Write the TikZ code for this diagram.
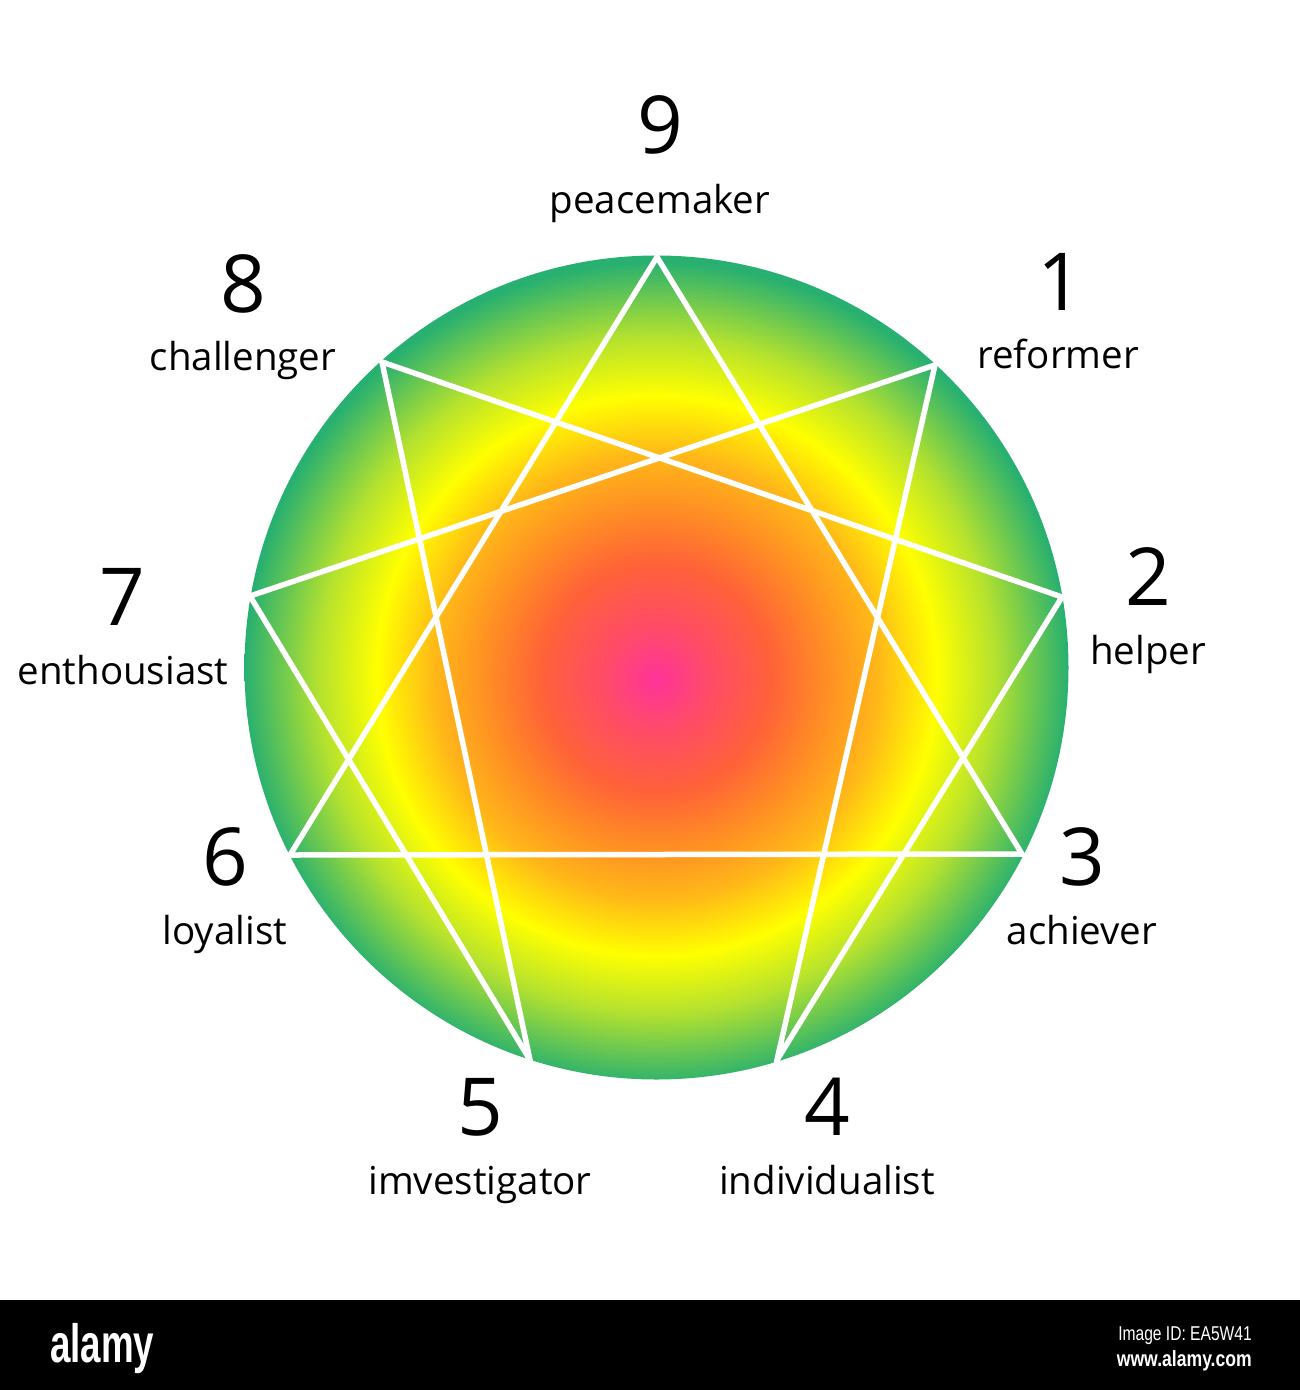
\documentclass[tikz,border=0pt]{standalone}
\usepackage{fontspec}
\setmainfont{Open Sans}
\newfontfamily\barfont{Liberation Sans}
\definecolor{cpink}{HTML}{FF3399}
\definecolor{cpinkred}{HTML}{FF4A6A}
\definecolor{cred}{HTML}{FF6238}
\definecolor{corange}{HTML}{FF8A25}
\definecolor{camber}{HTML}{FFB818}
\definecolor{cyellow}{HTML}{FFFF00}
\definecolor{clime}{HTML}{B5E22E}
\definecolor{cgreen}{HTML}{28B070}
\pgfdeclareradialshading{ennea}{\pgfpoint{0bp}{-0.75bp}}{%
  color(0bp)=(cpink); color(3bp)=(cpinkred); color(7bp)=(cred);
  color(10bp)=(corange); color(13.5bp)=(camber); color(17bp)=(cyellow);
  color(20.5bp)=(clime); color(25bp)=(cgreen); color(50bp)=(cgreen)}
\begin{document}
\begin{tikzpicture}[x=1pt,y=-1pt,
  wline/.style={draw=white,line width=5.5pt,line join=miter},
  numlbl/.style={anchor=base,inner sep=0pt,font=\fontsize{80}{90}\selectfont},
  namelbl/.style={anchor=base,inner sep=0pt,font=\fontsize{38.5}{42}\selectfont}]
\useasboundingbox (0,0) rectangle (1300,1390);
\fill[white] (0,0) rectangle (1300,1390);
% circle
\coordinate (c) at (656.5,667.5);
\shade[shading=ennea] (c) circle[radius=412pt];
% vertices
\coordinate (p9) at (657,257);
\coordinate (p1) at (935,365);
\coordinate (p2) at (1062,597);
\coordinate (p3) at (1022,854);
\coordinate (p4) at (777,1060);
\coordinate (p5) at (530,1060);
\coordinate (p6) at (290,855);
\coordinate (p7) at (250,596);
\coordinate (p8) at (382,362);
\draw[wline] (p9) -- (p3) -- (p6) -- cycle;
\draw[wline] (p1) -- (p4) -- (p2) -- (p8) -- (p5) -- (p7) -- cycle;
% labels
\node[numlbl] (n9) at (660,153) {9};
\node[namelbl] (l9) at (660,213) {peacemaker};
\node[numlbl] (n1) at (1060,310) {1};
\node[namelbl] (l1) at (1058,368) {reformer};
\node[numlbl] (n2) at (1148,605) {2};
\node[namelbl] (l2) at (1148,664) {helper};
\node[numlbl] (n3) at (1082,885) {3};
\node[namelbl] (l3) at (1082,944) {achiever};
\node[numlbl] (n4) at (827,1135) {4};
\node[namelbl] (l4) at (827,1194) {individualist};
\node[numlbl] (n5) at (480,1135) {5};
\node[namelbl] (l5) at (480,1194) {imvestigator};
\node[numlbl] (n6) at (225,885) {6};
\node[namelbl] (l6) at (225,944) {loyalist};
\node[numlbl] (n7) at (122,625) {7};
\node[namelbl] (l7) at (123,684) {enthousiast};
\node[numlbl] (n8) at (243,312) {8};
\node[namelbl] (l8) at (243,370) {challenger};
% bottom bar
\fill[black] (0,1300) rectangle (1300,1390);
\node[anchor=base west,inner sep=0pt,text=white] (al) at (50,1362)
  {\scalebox{0.68}[1]{\barfont\bfseries\fontsize{54}{60}\selectfont alamy}};
\node[anchor=base east,inner sep=0pt,text=white] (id) at (1252,1340)
  {\scalebox{0.78}[1]{\barfont\fontsize{20}{24}\selectfont Image ID: EA5W41}};
\node[anchor=base east,inner sep=0pt,text=white] (www) at (1252,1366)
  {\scalebox{0.8}[1]{\barfont\bfseries\fontsize{22}{26}\selectfont www.alamy.com}};
\end{tikzpicture}
\end{document}
